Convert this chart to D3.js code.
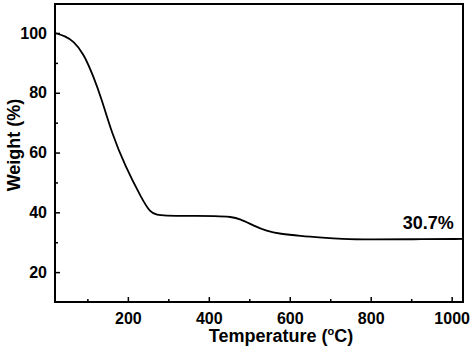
<!DOCTYPE html>
<html lang="en">
<head>
<meta charset="UTF-8">
<script src="https://d3js.org/d3.v7.min.js"></script>
<style>
  body { margin: 0; background: #fff; }
  text { font-family: "Liberation Sans", Arial, sans-serif; font-weight: bold; fill: #000; }
</style>
</head>
<body>
<div id="chart"></div>
<script>
// TGA curve
const temperature = [20, 45, 66, 90, 115, 136, 160, 193, 235, 255, 272, 290, 350, 420, 455, 477, 510, 543, 576, 625, 683, 725, 800, 900, 1028];
const weight = [100, 99, 97.2, 93.3, 85.5, 77.6, 66.7, 55.5, 44.4, 40.0, 39.1, 38.9, 38.8, 38.8, 38.5, 37.8, 35.6, 33.7, 32.8, 32.1, 31.5, 31.1, 30.9, 31.0, 31.1];
const xTicks = [200, 400, 600, 800, 1000];
const yTicks = [20, 40, 60, 80, 100];
const residueLabel = "30.7%";

const W = 474, H = 353;
const margin = { top: 4, right: 11, bottom: 51, left: 55 };
const width = W - margin.left - margin.right;
const height = H - margin.top - margin.bottom;

const svg = d3.select("#chart").append("svg")
    .attr("width", W)
    .attr("height", H);

const g = svg.append("g")
    .attr("transform", `translate(${margin.left},${margin.top})`);

const x = d3.scaleLinear().domain([20, 1028]).range([0, width]);
const y = d3.scaleLinear().domain([10, 109.7]).range([height, 0]);

// minor ticks (inward)
g.append("g")
    .attr("transform", `translate(0,${height})`)
    .call(d3.axisTop(x).tickValues(d3.range(100, 1001, 200)).tickSize(3).tickFormat(""))
    .call(a => a.select(".domain").remove())
    .selectAll("line").attr("stroke-width", 1.5);
g.append("g")
    .call(d3.axisRight(y).tickValues(d3.range(30, 101, 20)).tickSize(3).tickFormat(""))
    .call(a => a.select(".domain").remove())
    .selectAll("line").attr("stroke-width", 1.5);

// major ticks
const xAxis = g.append("g")
    .attr("transform", `translate(0,${height})`)
    .call(d3.axisBottom(x).tickValues(xTicks).tickFormat(d3.format("d"))
        .tickSizeInner(-5).tickSizeOuter(0).tickPadding(11));
xAxis.select(".domain").remove();
xAxis.selectAll("line").attr("stroke-width", 1.5);
xAxis.selectAll("text").style("font-size", "16px");

const yAxis = g.append("g")
    .call(d3.axisLeft(y).tickValues(yTicks).tickSizeInner(-5).tickSizeOuter(0).tickPadding(8));
yAxis.select(".domain").remove();
yAxis.selectAll("line").attr("stroke-width", 1.5);
yAxis.selectAll("text").style("font-size", "16px");

// frame
g.append("rect")
    .attr("width", width)
    .attr("height", height)
    .attr("fill", "none")
    .attr("stroke", "#000")
    .attr("stroke-width", 2);

// curve
const pts = temperature.map((t, i) => [t, weight[i]]);
g.append("path")
    .datum(pts)
    .attr("fill", "none")
    .attr("stroke", "#000")
    .attr("stroke-width", 1.8)
    .attr("d", d3.line().x(d => x(d[0])).y(d => y(d[1])).curve(d3.curveBasis));

// residue label
g.append("text")
    .attr("x", x(1005))
    .attr("y", y(31) - 10)
    .attr("text-anchor", "end")
    .style("font-size", "18px")
    .text(residueLabel);

// axis titles
const xt = svg.append("text")
    .attr("x", 281)
    .attr("y", 342)
    .attr("text-anchor", "middle")
    .style("font-size", "18px");
xt.append("tspan").text("Temperature (");
xt.append("tspan").attr("dy", -7).style("font-size", "11px").text("o");
xt.append("tspan").attr("dy", 7).text("C)");

svg.append("text")
    .attr("transform", "translate(20,145) rotate(-90)")
    .attr("text-anchor", "middle")
    .style("font-size", "18px")
    .text("Weight (%)");
</script>
</body>
</html>
